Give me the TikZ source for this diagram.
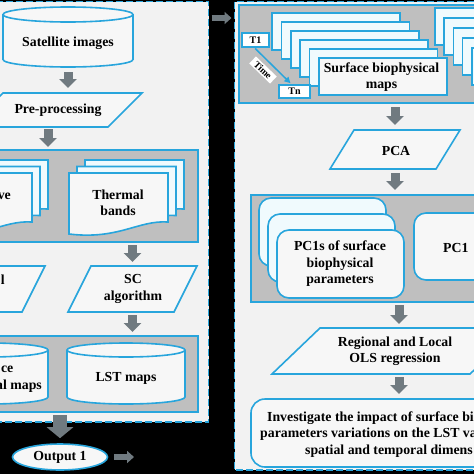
\documentclass[tikz,border=0pt]{standalone}
\usepackage{fontspec}
\setmainfont{Liberation Serif}
\usetikzlibrary{arrows.meta,shapes.geometric}
\definecolor{bblue}{RGB}{40,165,220}
\definecolor{panelfill}{RGB}{242,242,242}
\definecolor{boxgray}{RGB}{191,191,191}
\definecolor{arrgray}{RGB}{112,122,128}
\definecolor{frontfill}{RGB}{247,247,247}
\definecolor{backfill}{RGB}{240,250,253}

\newcommand\mycyl[5]{%
  \pgfmathsetmacro\cylrx{((#3)-(#1))/2}%
  \draw[shapeline, fill=frontfill] (#1,#2+#5) -- (#1,#4-#5)
     arc[start angle=180, end angle=360, x radius=\cylrx pt, y radius=#5pt]
     -- (#3,#2+#5)
     arc[start angle=0, end angle=180, x radius=\cylrx pt, y radius=#5pt] -- cycle;
  \draw[shapeline] (#1,#2+#5) arc[start angle=180, end angle=360, x radius=\cylrx pt, y radius=#5pt];
}
\newcommand\docshape[5][frontfill]{%
  \draw[shapeline, fill=#1] (#2,#3) -- (#4,#3) -- (#4,#5-13)
    .. controls ({#4-0.3*((#4)-(#2))},#5-15) and ({#2+0.5*((#4)-(#2))},#5+5) .. (#2,#5-1) -- cycle;
}

\begin{document}
\begin{tikzpicture}[x=1pt,y=-1pt,
  holder/.style={rectangle, inner sep=0pt, outer sep=0pt, draw=none},
  lbl/.style={font=\fontsize{13.8}{16.5}\selectfont\bfseries, align=center, inner sep=0pt, text=black},
  shapeline/.style={draw=bblue, line width=1.6pt},
  panel/.style={draw=bblue, line width=1.4pt, dash pattern=on 7pt off 3pt, fill=panelfill},
  graybox/.style={draw=bblue, line width=1.6pt, fill=boxgray},
  garrow/.style={draw=arrgray, line width=9pt, -{Triangle[width=17pt,length=9pt]}},
  bigarrow/.style={draw=arrgray, line width=14pt, -{Triangle[width=26pt,length=11pt]}},
  sarrow/.style={draw=arrgray, line width=6pt, -{Triangle[width=12pt,length=7pt]}},
  smalllbl/.style={font=\fontsize{10}{12}\selectfont\bfseries, inner sep=0pt},
]
\useasboundingbox (0,0) rectangle (474,474);
\clip (0,0) rectangle (474,474);
\fill[black] (0,0) rectangle (474,474);

% ---------------- panels
\node[holder, minimum width=213.5pt, minimum height=420.5pt] (pL) at (101.75,211.75) {};
\draw[panel] (pL.north west) rectangle (pL.south east);
\node[holder, minimum width=256pt, minimum height=468.5pt] (pR) at (362.5,235.75) {};
\draw[panel] (pR.north west) rectangle (pR.south east);
\coordinate (gA) at (0,18);
\draw[sarrow, shorten <=3pt, shorten >=3pt] (pL.east |- gA) -- (pR.west |- gA);

% ---------------- left panel
\node[holder, minimum width=130pt, minimum height=60pt] (sat) at (68,37) {};
\mycyl{3}{7}{133}{67}{7.5}
\node[lbl] (tsat) at (68,43) {Satellite images};

\node[holder, minimum width=173pt, minimum height=34pt] (pre) at (55.5,110) {};
\draw[shapeline, fill=frontfill] ([xshift=34pt]pre.north west) -- (pre.north east)
   -- ([xshift=-34pt]pre.south east) -- (pre.south west) -- cycle;
\node[lbl] (tpre) at (58,110) {Pre-processing};
\draw[garrow, shorten <=5pt, shorten >=5pt] (sat.south) -- (sat.south |- pre.north);

\node[holder, minimum width=203pt, minimum height=92pt] (g1) at (96.5,196) {};
\draw[graybox] (g1.north west) rectangle (g1.south east);
\coordinate (pa) at ([xshift=-7.5pt]pre.south);
\draw[garrow, shorten <=2pt, shorten >=3pt] (pa) -- (pa |- g1.north);

% left document stack (cut)
\docshape[backfill]{-51}{160}{48}{222}
\docshape[backfill]{-59}{166.5}{40}{228.5}
\node[holder, minimum width=99pt, minimum height=62pt] (refl) at (-17.5,204) {};
\docshape{-67}{173}{32}{235}
\node[lbl, anchor=base east] (trefl) at (11,199) {ve};

% thermal document stack
\docshape[backfill]{85}{160}{184}{222}
\docshape[backfill]{77}{166.5}{176}{228.5}
\node[holder, minimum width=99pt, minimum height=62pt] (th) at (118.5,204) {};
\docshape{69}{173}{168}{235}
\node[lbl] (tth) at (118,203) {Thermal\\bands};

% SC algorithm
\node[holder, minimum width=129pt, minimum height=46pt] (sc) at (132.5,289) {};
\draw[shapeline, fill=frontfill] ([xshift=23pt]sc.north west) -- (sc.north east)
   -- ([xshift=-23pt]sc.south east) -- (sc.south west) -- cycle;
\node[lbl] (tsc) at (133,289) {SC\\algorithm};
\node[holder, minimum width=129pt, minimum height=46pt] (lp) at (-19.5,289) {};
\draw[shapeline, fill=frontfill] ([xshift=23pt]lp.north west) -- (lp.north east)
   -- ([xshift=-23pt]lp.south east) -- (lp.south west) -- cycle;
\node[lbl, anchor=base east] (tlp) at (5,284.5) {l};
\draw[garrow, shorten <=3pt, shorten >=4pt] (sc.north |- g1.south) -- (sc.north);

% second gray box
\node[holder, minimum width=203pt, minimum height=76pt] (g2) at (96.5,374) {};
\draw[graybox] (g2.north west) rectangle (g2.south east);
\draw[garrow, shorten <=3pt, shorten >=4pt] (sc.south) -- (sc.south |- g2.north);

\node[holder, minimum width=118pt, minimum height=61pt] (lst) at (126,373.5) {};
\mycyl{67}{343}{185}{404}{7}
\node[lbl] (tlst) at (126,378) {LST maps};
\node[holder, minimum width=118pt, minimum height=61pt] (sbl) at (-11,373.5) {};
\mycyl{-70}{343}{48}{404}{7}
\node[lbl, anchor=base east] (tsb1) at (13.5,372.5) {ce};
\node[lbl, anchor=base east] (tsb2) at (42,389) {al maps};

% output
\node[ellipse, draw=bblue, line width=1.6pt, fill=frontfill, minimum width=95pt,
      minimum height=26pt, inner sep=0pt, font=\fontsize{13.8}{16.5}\selectfont\bfseries] (out) at (60,457) {Output 1};
\draw[bigarrow, shorten <=3pt, shorten >=5pt] (out.north |- g2.south) -- (out.north);
\coordinate (oA) at (134,457);
\draw[sarrow, shorten <=6pt] (out.east) -- (oA);

% ---------------- right panel
\node[holder, minimum width=251pt, minimum height=98pt] (g3) at (364.5,54) {};
\draw[graybox] (g3.north west) rectangle (g3.south east);
\foreach \i in {0,...,4} {
  \draw[shapeline, fill=backfill] ({272+9.4*\i},{13+9*\i}) rectangle +(128,37);
}
\node[holder, minimum width=128pt, minimum height=37pt] (sbm) at (383,76.5) {};
\draw[shapeline, fill=frontfill] (sbm.north west) rectangle (sbm.south east);
\node[lbl] (tsbm) at (381.5,77) {Surface biophysical\\maps};
\foreach \i in {0,...,4} {
  \draw[shapeline, fill=backfill] ({435+9.2*\i},{8+10*\i}) rectangle +(128,37);
}
\node[draw=bblue, line width=1.6pt, fill=white, minimum width=27pt, minimum height=14pt, smalllbl] (t1) at (255.5,40) {T1};
\node[draw=bblue, line width=1.6pt, fill=white, minimum width=31pt, minimum height=13pt, smalllbl] (tn) at (294.5,91.5) {Tn};
\draw[draw=bblue, line width=1.5pt, -{Triangle[width=6pt,length=6pt]}, shorten <=1pt, shorten >=1.5pt]
   ([xshift=-1pt]t1.south) -- ([xshift=-3pt]tn.north);
\node[fill=white, rotate=-44, font=\fontsize{9.5}{11}\selectfont\bfseries, inner xsep=4pt, inner ysep=1.5pt] (time) at (263,70) {Time};

% PCA
\node[holder, minimum width=130pt, minimum height=39pt] (pca) at (395,149.5) {};
\draw[shapeline, fill=frontfill] ([xshift=24pt]pca.north west) -- (pca.north east)
   -- ([xshift=-24pt]pca.south east) -- (pca.south west) -- cycle;
\node[lbl] (tpca) at (396,151) {PCA};
\draw[garrow, shorten <=4pt, shorten >=5pt] (pca.north |- g3.south) -- (pca.north);

\node[holder, minimum width=239pt, minimum height=107pt] (g4) at (370.5,248.5) {};
\draw[graybox] (g4.north west) rectangle (g4.south east);
\draw[garrow, shorten <=4pt, shorten >=5pt] (pca.south) -- (pca.south |- g4.north);
\foreach \i in {0,1} {
  \draw[shapeline, fill=backfill, rounded corners=12pt] ({259+9*\i},{198+16*\i}) rectangle +(127,68);
}
\node[holder, minimum width=127pt, minimum height=68pt] (pcs) at (340.5,264) {};
\draw[shapeline, fill=frontfill, rounded corners=12pt] (pcs.north west) rectangle (pcs.south east);
\node[lbl] (tpcs) at (340,264) {PC1s of surface\\biophysical\\parameters};
\node[holder, minimum width=106pt, minimum height=67pt] (pc1) at (467,246.5) {};
\draw[shapeline, fill=frontfill, rounded corners=12pt] (pc1.north west) rectangle (pc1.south east);
\node[lbl, anchor=base west] (tpc1) at (443,252.5) {PC1};

% OLS
\node[holder, minimum width=246pt, minimum height=46pt] (ols) at (395,351) {};
\draw[shapeline, fill=frontfill] ([xshift=48pt]ols.north west) -- (ols.north east)
   -- ([xshift=-48pt]ols.south east) -- (ols.south west) -- cycle;
\node[lbl] (tols) at (395,351) {Regional and Local\\OLS regression};
\coordinate (ax) at (399,0);
\draw[garrow, shorten <=3pt, shorten >=4pt] (ax |- g4.south) -- (ax |- ols.north);

% final
\node[holder, minimum width=298pt, minimum height=68pt] (fin) at (400,433) {};
\draw[shapeline, fill=frontfill, rounded corners=14pt] (fin.north west) rectangle (fin.south east);
\draw[garrow, shorten <=3pt, shorten >=5pt] (ax |- ols.south) -- (ax |- fin.north);
\node[lbl, anchor=base west] (tf1) at (267,421) {Investigate the impact of surface bi};
\node[lbl, anchor=base west] (tf2) at (260,437.5) {parameters variations on the LST va};
\node[lbl, anchor=base west] (tf3) at (305,454) {spatial and temporal dimens};
\end{tikzpicture}
\end{document}
